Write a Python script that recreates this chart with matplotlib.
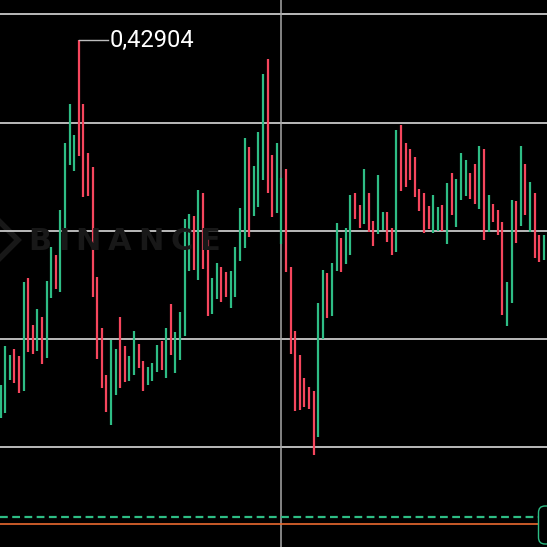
import numpy as np
import matplotlib.pyplot as plt
from matplotlib.patches import FancyBboxPatch

# 캔들 고가/저가
highs = [
    0.41630, 0.41774, 0.41741, 0.41763, 0.41737, 0.42009, 0.42027, 0.41852, 0.41910, 0.41880,
    0.42015, 0.42141, 0.42110, 0.42276, 0.42525, 0.42668, 0.42553, 0.42904, 0.42668, 0.42489,
    0.42434, 0.42028, 0.41839, 0.41667, 0.41796, 0.41762, 0.41882, 0.41774, 0.41737, 0.41831,
    0.41780, 0.41719, 0.41698, 0.41710, 0.41778, 0.41793, 0.41839, 0.41928, 0.41827, 0.41899,
    0.42243, 0.42263, 0.42254, 0.42350, 0.42338, 0.42168, 0.42024, 0.42079, 0.42067, 0.42047,
    0.42051, 0.42139, 0.42283, 0.42544, 0.42509, 0.42439, 0.42564, 0.42781, 0.42834, 0.42479,
    0.42524, 0.42396, 0.42430, 0.42065, 0.41830, 0.41741, 0.41657, 0.41624, 0.41606, 0.41932,
    0.42055, 0.42043, 0.42079, 0.42227, 0.42175, 0.42209, 0.42332, 0.42338, 0.42297,
    0.42430, 0.42340, 0.42236, 0.42406, 0.42268, 0.42270, 0.42209, 0.42572, 0.42590, 0.42526,
    0.42504, 0.42472, 0.42356, 0.42340, 0.42291, 0.42331, 0.42289, 0.42297, 0.42376, 0.42412,
    0.42393, 0.42489, 0.42461, 0.42412, 0.42446, 0.42513, 0.42503, 0.42332, 0.42299, 0.42276,
    0.42231, 0.42009, 0.42313, 0.42311, 0.42513, 0.42445, 0.42381, 0.42338, 0.42184, 0.42184,
]
lows = [
    0.41507, 0.41526, 0.41649, 0.41639, 0.41602, 0.41608, 0.41750, 0.41745, 0.41756, 0.41707,
    0.41731, 0.41950, 0.41983, 0.41975, 0.42166, 0.42443, 0.42422, 0.42476, 0.42323, 0.42329,
    0.41954, 0.41725, 0.41618, 0.41529, 0.41483, 0.41593, 0.41618, 0.41640, 0.41645, 0.41665,
    0.41692, 0.41608, 0.41628, 0.41645, 0.41679, 0.41686, 0.41657, 0.41741, 0.41676, 0.41723,
    0.41812, 0.42052, 0.42055, 0.42018, 0.42059, 0.41886, 0.41892, 0.41947, 0.41935, 0.41956,
    0.41913, 0.41956, 0.42088, 0.42135, 0.42178, 0.42255, 0.42289, 0.42387, 0.42338, 0.42252,
    0.42264, 0.42150, 0.42049, 0.41745, 0.41532, 0.41538, 0.41547, 0.41540, 0.41372, 0.41439,
    0.41799, 0.41876, 0.41886, 0.42052, 0.42046, 0.42077, 0.42110, 0.42243, 0.42211,
    0.42225, 0.42194, 0.42145, 0.42188, 0.42203, 0.42159, 0.42110, 0.42123, 0.42347, 0.42363,
    0.42387, 0.42326, 0.42274, 0.42193, 0.42206, 0.42190, 0.42200, 0.42199, 0.42150, 0.42258,
    0.42215, 0.42313, 0.42329, 0.42316, 0.42299, 0.42279, 0.42166, 0.42196, 0.42233, 0.42184,
    0.41889, 0.41849, 0.41932, 0.42153, 0.42219, 0.42260, 0.42194, 0.42100, 0.42086, 0.42092,
]
# g = 상승, r = 하락
directions = ("gggrrgrrgr" "ggrggggrrr" "rrrrggrrgg" "rrgggrgrgg"
              "ggrgrrggrr" "ggggrgggrr" "ggrrrrrrrg" "grggrggrr"
              "grrggrrgrr" "rrrrrggrgr" "gggrrgrgrr" "rggrgrgrrg")

grid_prices = [0.430, 0.426, 0.422, 0.418, 0.414]
peak_label = '0,42904'
line_green = 0.41143   # 점선 (녹색)
line_orange = 0.41116  # 실선 (주황)
crosshair_x = 60.93

GREEN = '#2ebd85'
RED = '#f6465d'
WM = '#181818'

fig = plt.figure(figsize=(5.47, 5.47), dpi=100)
fig.patch.set_facecolor('black')
ax = fig.add_axes([0, 0, 1, 1])
ax.set_facecolor('black')
ax.set_xlim(-0.11, 118.7)
ax.set_ylim(0.41031, 0.43053)
ax.axis('off')

# 그리드
for p in grid_prices:
    ax.axhline(p, color='#c8c8c8', lw=1.3, zorder=1)
ax.axvline(crosshair_x, color='#a8a8a8', lw=1.1, zorder=1)

# 워터마크 (로고 + 글자 간격 넓힌 BINANCE)
ax.plot([-0.4], [0.42166], marker='D', ms=19, mfc='none', mec=WM, mew=4,
        zorder=0.5, clip_on=False)
letter_w = [23.3, 11.4, 25.6, 23.7, 25.6, 22.5, 20.9]   # 글자 폭(px)
xpos = 28.0
for ch, w in zip('BINANCE', letter_w):
    fig.text(xpos / 547, 1 - 241 / 547, ch, color=WM, fontsize=22,
             fontweight='bold', ha='left', va='center', family='DejaVu Sans', zorder=0.5)
    xpos += w + 6.5

# 캔들
x = np.arange(len(highs))
colors = [GREEN if d == 'g' else RED for d in directions]
ax.vlines(x, lows, highs, colors=colors, lw=1.6, zorder=3)

# 최고가 표시
peak = int(np.argmax(highs))
ax.plot([peak, 23.35], [highs[peak], highs[peak]], color='#bdbdbd', lw=1.0, zorder=4)
ax.text(23.8, highs[peak], peak_label, color='white', fontsize=17, family='Roboto',
        ha='left', va='center', zorder=5)

# 하단 라인
ax.axhline(line_green, color=GREEN, lw=1.6, ls=(0, (3.5, 2)), zorder=2)
ax.axhline(line_orange, color='#e8692f', lw=1.2, zorder=2)

box = FancyBboxPatch((538.5 / 547, 1 - 544 / 547), 20 / 547, 38 / 547,
                     boxstyle='round,pad=0,rounding_size=0.012',
                     transform=fig.transFigure, fc='black', ec=GREEN, lw=1.0, zorder=6)
fig.patches.append(box)

fig.savefig('out.png', dpi=100, facecolor='black')
